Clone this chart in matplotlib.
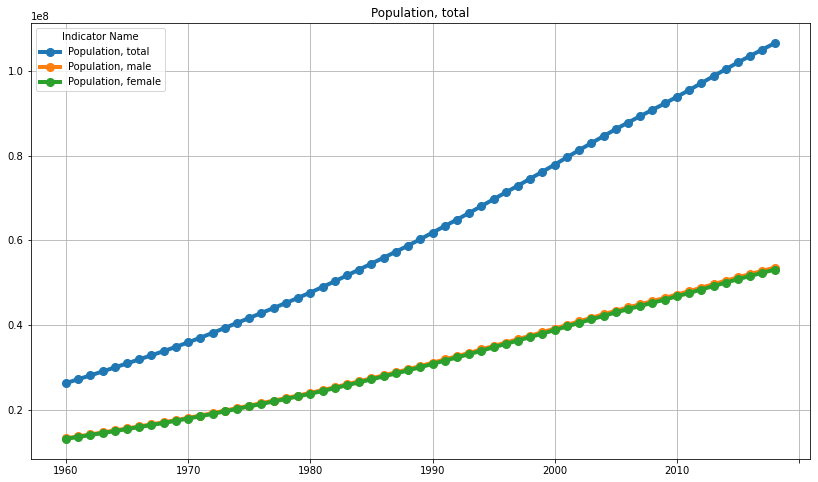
import numpy as np
from matplotlib import pyplot as plt

# años y datos (millones de personas)
anios = list(range(1960, 2019))

total = [26.27, 27.16, 28.08, 29.01, 29.96, 30.91, 31.87, 32.83, 33.82, 34.83,
         35.89, 36.99, 38.13, 39.30, 40.48, 41.66, 42.84, 44.02, 45.21, 46.42,
         47.68, 48.99, 50.34, 51.72, 53.12, 54.52, 55.92, 57.33, 58.78, 60.30,
         61.85, 63.40, 64.93, 66.51, 68.12, 69.76, 71.37, 72.97, 74.62, 76.27,
         77.93, 79.67, 81.37, 83.03, 84.68, 86.33, 87.89, 89.41, 90.90, 92.41,
         93.97, 95.57, 97.21, 98.87, 100.51, 102.11, 103.66, 105.17, 106.65]

hombres = [13.19, 13.64, 14.10, 14.57, 15.05, 15.52, 16.01, 16.49, 16.98, 17.49,
           18.02, 18.58, 19.15, 19.74, 20.33, 20.92, 21.51, 22.11, 22.70, 23.31,
           23.94, 24.60, 25.28, 25.97, 26.68, 27.38, 28.08, 28.79, 29.52, 30.28,
           31.06, 31.84, 32.61, 33.40, 34.21, 35.03, 35.84, 36.65, 37.47, 38.30,
           39.14, 40.01, 40.86, 41.70, 42.53, 43.36, 44.14, 44.90, 45.65, 46.41,
           47.19, 48.00, 48.82, 49.65, 50.48, 51.28, 52.06, 52.82, 53.56]

mujeres = [13.08, 13.52, 13.98, 14.44, 14.91, 15.39, 15.86, 16.34, 16.84, 17.34,
           17.87, 18.41, 18.98, 19.56, 20.15, 20.74, 21.33, 21.91, 22.51, 23.11,
           23.74, 24.39, 25.06, 25.75, 26.44, 27.14, 27.84, 28.54, 29.26, 30.02,
           30.79, 31.56, 32.32, 33.11, 33.91, 34.73, 35.53, 36.32, 37.15, 37.97,
           38.79, 39.66, 40.51, 41.33, 42.15, 42.97, 43.75, 44.51, 45.25, 46.00,
           46.78, 47.57, 48.39, 49.22, 50.03, 50.83, 51.60, 52.35, 53.09]

series = ["Population, total", "Population, male", "Population, female"]
ticks_x = [1960, 1970, 1980, 1990, 2000, 2010, 2020]

fig = plt.figure(figsize=(818 / 72, 482 / 72), dpi=72)
ax = fig.add_axes([0.0373, 0.0486, 0.953, 0.9027])

for nombre, vals in zip(series, [total, hombres, mujeres]):
    ax.plot(anios, np.array(vals) * 1e6, marker="o", linewidth=4,
            markersize=8, label=nombre)

ax.set_title("Population, total", fontsize=12)
ax.set_xticks(ticks_x)
ax.set_xticklabels([str(t) for t in ticks_x[:-1]] + [""])
ax.tick_params(labelsize=10)
ax.grid(True)
ax.legend(title="Indicator Name", loc="upper left", fontsize=10,
          title_fontsize=10)

fig.savefig("out.png", dpi=72)
